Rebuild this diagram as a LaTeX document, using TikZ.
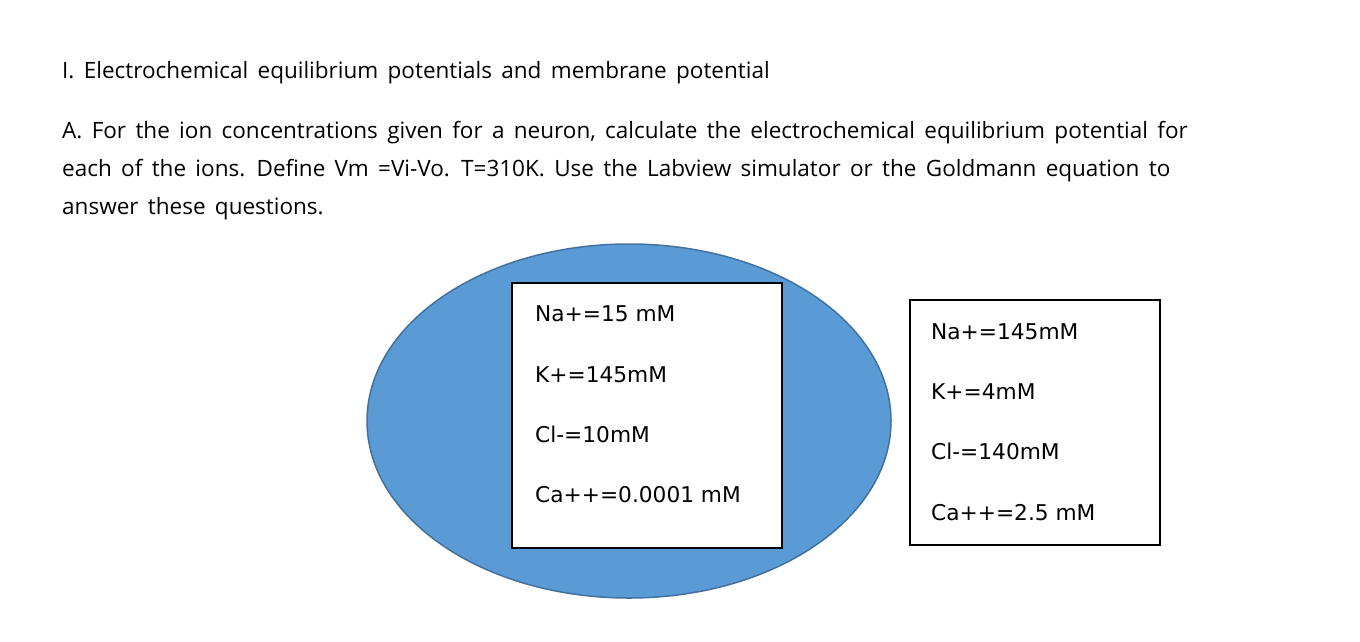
\documentclass[tikz,border=0pt]{standalone}
\usepackage{fontspec}
\setmainfont[WordSpace=1.6]{Open Sans}
\newfontfamily\boxfont{DejaVu Sans}
\definecolor{cellblue}{HTML}{5B9BD5}
\definecolor{celledge}{HTML}{41719C}
\begin{document}
\begin{tikzpicture}[x=1pt,y=-1pt,
  txt/.style={anchor=base west,inner sep=0pt,font=\fontsize{22.5}{26}\selectfont},
  ion/.style={anchor=base west,inner sep=0pt,font=\boxfont\fontsize{21.7}{26}\selectfont},
  ionbox/.style={draw=black,line width=1.2pt,fill=white}]
\useasboundingbox (0,0) rectangle (1360,641);
\node[txt] (h) at (62,78) {I. Electrochemical equilibrium potentials and membrane potential};
\node[txt] (p1) at (62,138) {A. For the ion concentrations given for a neuron, calculate the electrochemical equilibrium potential for};
\node[txt] (p2) at (62,176) {each of the ions. Define Vm =Vi-Vo. T=310K. Use the Labview simulator or the Goldmann equation to};
\node[txt] (p3) at (62,214) {answer these questions.};
\draw[fill=cellblue,draw=celledge,line width=1.5pt] (629,421) ellipse [x radius=262,y radius=177];
\draw[ionbox] (512,283) rectangle (782,548);
\draw[ionbox] (910,300) rectangle (1160,545);
\node[ion] (a1) at (535,321) {Na+=15 mM};
\node[ion] (a2) at (535,382) {K+=145mM};
\node[ion] (a3) at (535,442) {Cl-=10mM};
\node[ion] (a4) at (535,502) {Ca++=0.0001 mM};
\node[ion] (b1) at (931,339) {Na+=145mM};
\node[ion] (b2) at (931,399) {K+=4mM};
\node[ion] (b3) at (931,459) {Cl-=140mM};
\node[ion] (b4) at (931,520) {Ca++=2.5 mM};
\end{tikzpicture}
\end{document}
